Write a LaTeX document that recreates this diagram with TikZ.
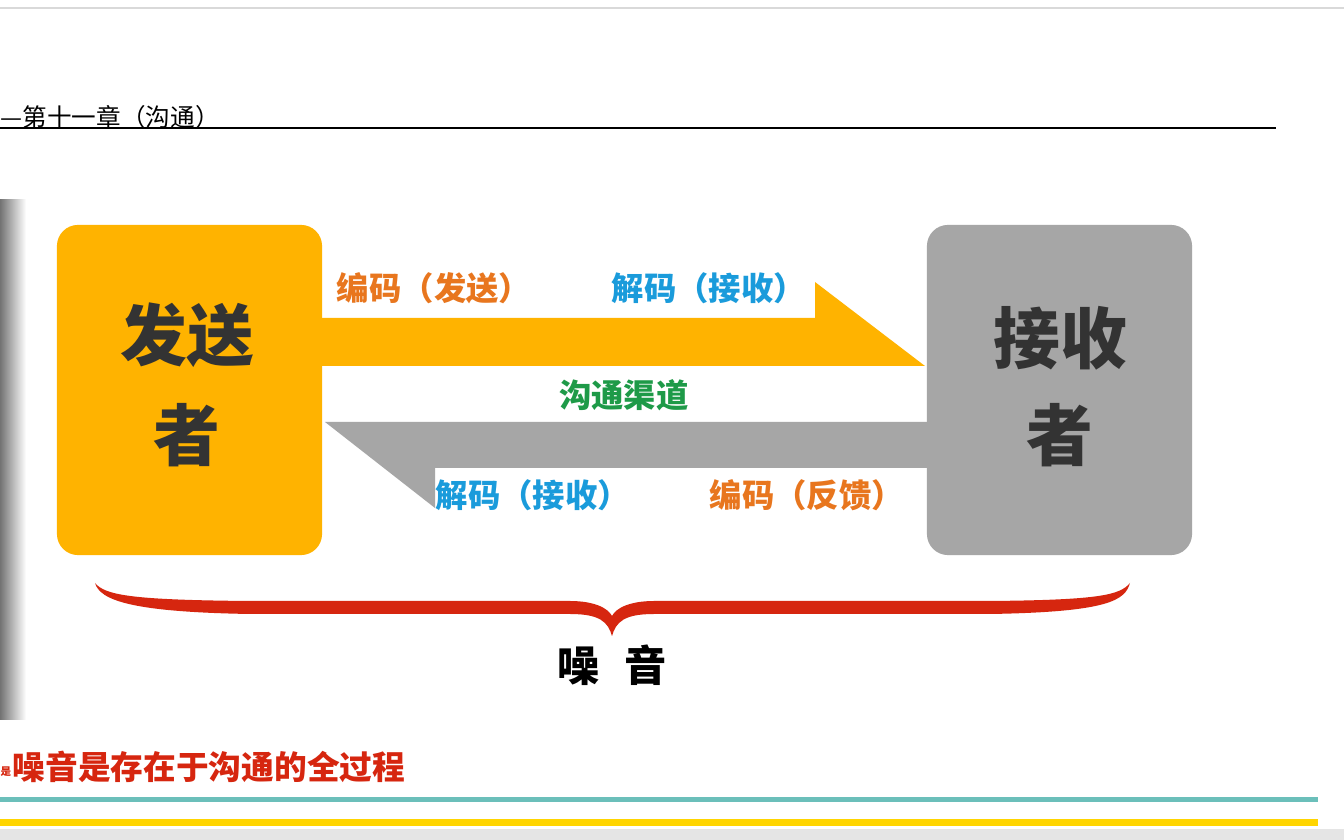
\documentclass[tikz,border=0pt]{standalone}
\usepackage{fontspec}
\setmainfont{Noto Sans CJK SC}
\definecolor{boxorange}{HTML}{FFB300}
\definecolor{boxgray}{HTML}{A6A6A6}
\definecolor{lblorange}{HTML}{E8761E}
\definecolor{lblblue}{HTML}{1A9BDB}
\definecolor{lblgreen}{HTML}{1E9A48}
\definecolor{bracered}{HTML}{D6260F}
\definecolor{footteal}{HTML}{6BBFBA}
\definecolor{footyellow}{HTML}{FFD500}
\tikzset{
  party/.style={rounded corners=6pt,minimum width=2.65cm,minimum height=3.3cm},
  bigtext/.style={font=\fontsize{19}{19}\selectfont\bfseries,text=black!80},
  lbl/.style={font=\fontsize{9.2}{10}\selectfont\bfseries}
}
\begin{document}
\begin{tikzpicture}[x=0.01cm,y=-0.01cm]
\useasboundingbox (0,0) rectangle (1344,840);
\fill[white] (0,0) rectangle (1344,840);
% page frame
\draw[black!15] (0,8) -- (1344,8);
\node[anchor=west,inner sep=0,font=\fontsize{7}{8}\selectfont] (title) at (0,117) {—第十一章（沟通）};
\draw[black,line width=0.6pt] (0,128) -- (1276,128);
\fill[left color=black!55,right color=white] (0,200) rectangle (26,720);
% parties
\node[party,fill=boxorange] (sender) at (189.5,390) {};
\node[party,fill=boxgray] (receiver) at (1059.5,390) {};
\node[bigtext] (s1) at (187,335) {发送};
\node[bigtext] (s2) at (187,435) {者};
\node[bigtext] (r1) at (1060,338) {接收};
\node[bigtext] (r2) at (1060,435) {者};
% arrows
\fill[boxorange] (322,318) -- (815,318) -- (815,282) -- (925,366) -- (322,366) -- cycle;
\fill[boxgray] (927,422) -- (325,422) -- (435,508) -- (435,468) -- (927,468) -- cycle;
\node[lbl,text=lblorange] (enc1) at (434,288) {编码（发送）};
\node[lbl,text=lblblue] (dec1) at (709,288) {解码（接收）};
\node[lbl,text=lblgreen] (chan) at (624,395) {沟通渠道};
\node[lbl,text=lblblue] (dec2) at (533,495) {解码（接收）};
\node[lbl,text=lblorange] (enc2) at (807,495) {编码（反馈）};
% noise brace
\fill[bracered] (95,583) .. controls (100,600) and (130,612) .. (250,614) -- (570,614)
  .. controls (600,614) and (608,622) .. (612,636) .. controls (616,622) and (624,614) .. (654,614)
  -- (990,614) .. controls (1110,612) and (1125,600) .. (1130,583)
  .. controls (1120,595) and (1100,600) .. (990,601) -- (654,601)
  .. controls (630,601) and (616,608) .. (612,616) .. controls (608,608) and (594,601) .. (570,601)
  -- (250,601) .. controls (130,600) and (105,595) .. (95,583) -- cycle;
\node[font=\fontsize{12}{12}\selectfont\bfseries] (noise) at (612,665) {噪\hspace{0.6em}音};
% footer
\node[anchor=west,inner sep=0,font=\fontsize{3}{3}\selectfont\bfseries,text=bracered] (tiny) at (0,772) {是};
\node[anchor=west,inner sep=0,font=\fontsize{9.3}{10}\selectfont\bfseries,text=bracered] (note) at (12,767) {噪音是存在于沟通的全过程};
\fill[footteal] (0,797) rectangle (1318,802);
\fill[footyellow] (0,819) rectangle (1318,826);
\fill[black!10] (0,829) rectangle (1344,840);
\end{tikzpicture}
\end{document}
